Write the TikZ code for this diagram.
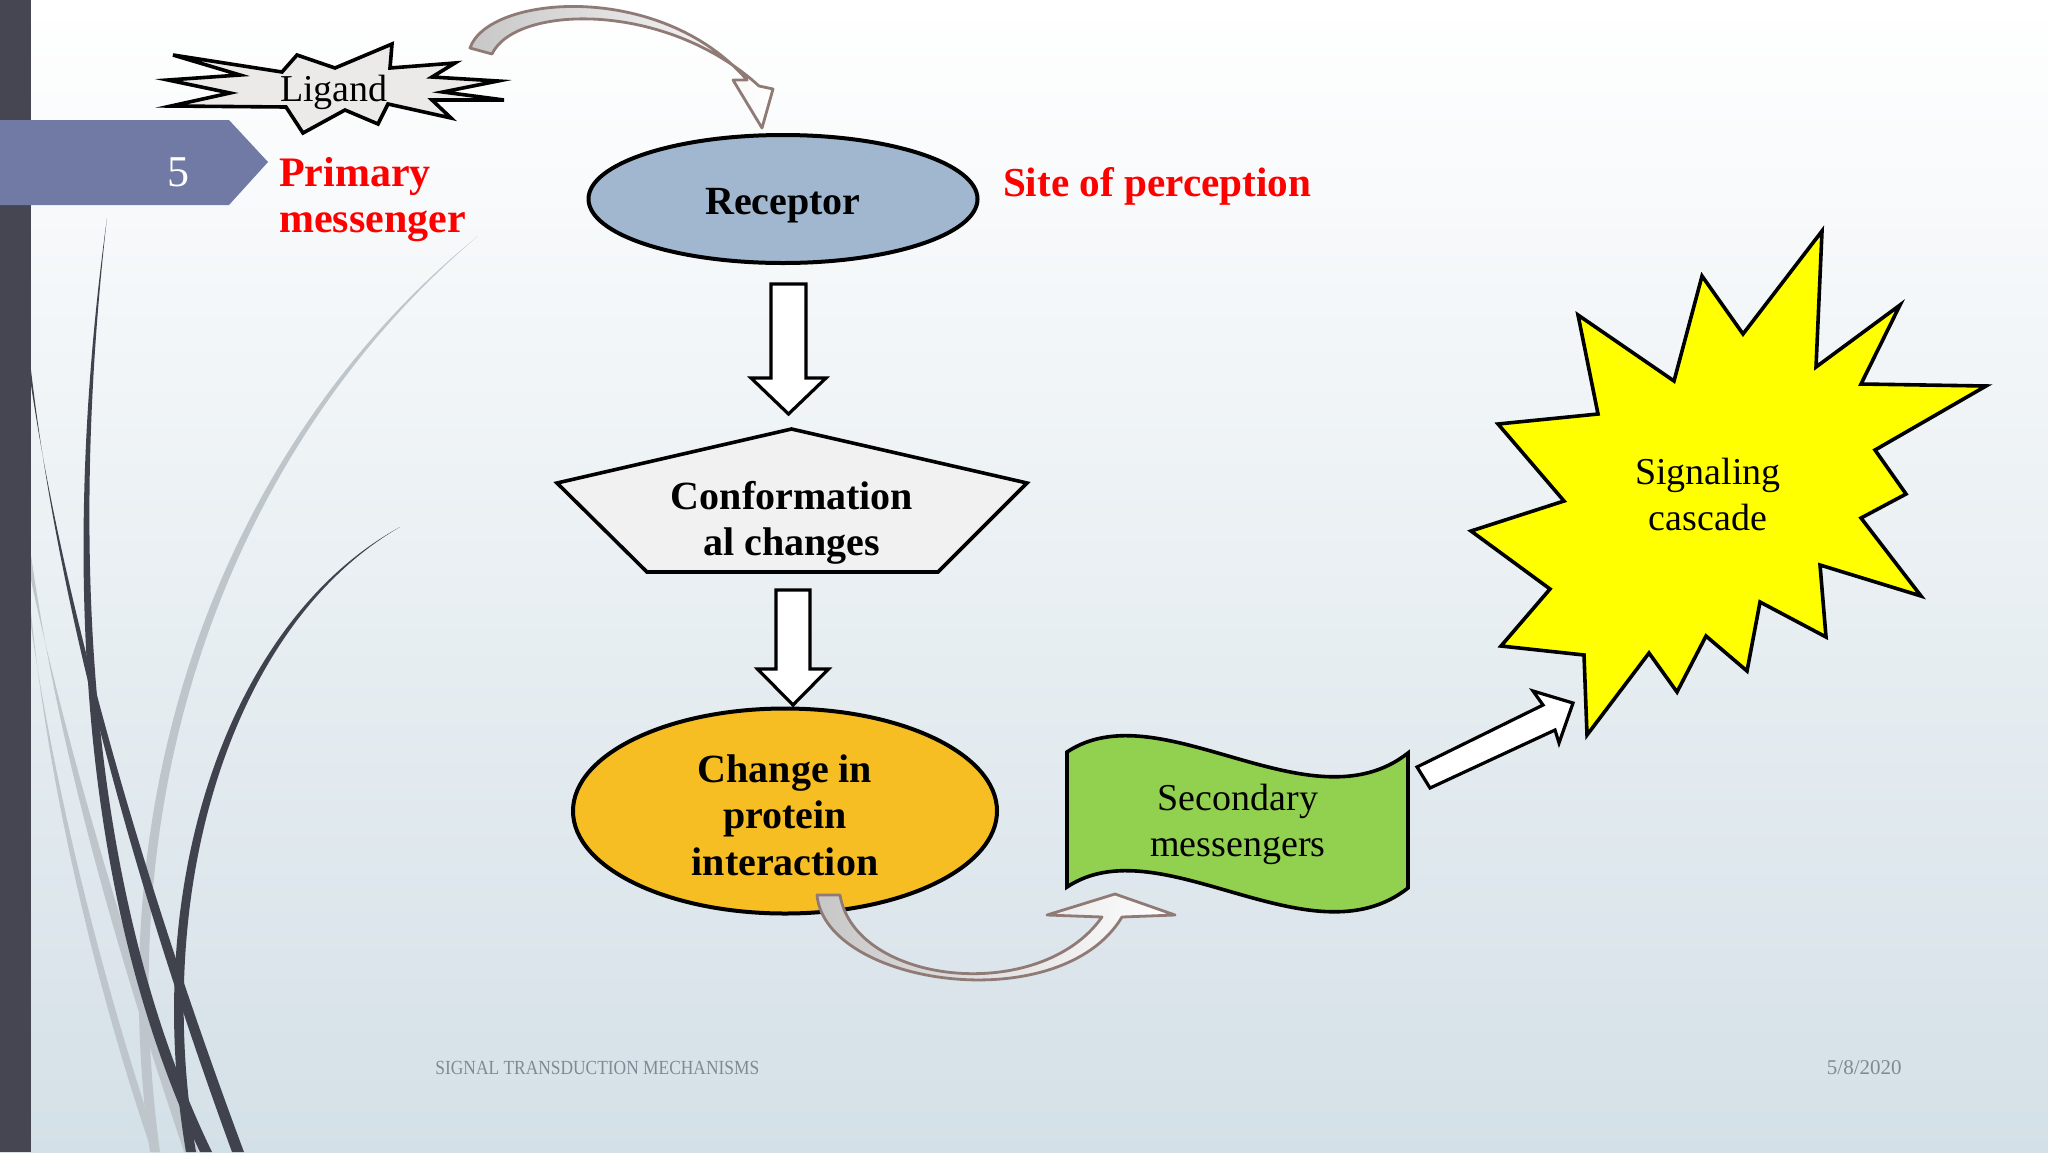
\documentclass[tikz,border=0pt]{standalone}
\usepackage{fontspec}
\setmainfont{Liberation Serif}
\usetikzlibrary{shapes.geometric,calc}
\definecolor{barc}{RGB}{69,70,82}
\definecolor{numc}{RGB}{112,122,164}
\definecolor{bgbot}{RGB}{212,224,231}
\definecolor{swdark}{RGB}{64,67,78}
\definecolor{swlight}{RGB}{190,198,204}
\definecolor{arrc}{RGB}{143,122,118}
\definecolor{recc}{RGB}{160,183,207}
\definecolor{pentc}{RGB}{241,241,241}
\definecolor{orac}{RGB}{247,190,35}
\definecolor{grnc}{RGB}{146,208,80}
\definecolor{ylwc}{RGB}{255,255,0}
\definecolor{footc}{RGB}{128,138,148}
\definecolor{ligc}{RGB}{236,233,233}
\begin{document}
\begin{tikzpicture}[x=0.5pt,y=-0.5pt,
  shapeline/.style={draw=black, line width=1.8pt, line join=miter},
  boldlbl/.style={font=\fontsize{20}{23}\selectfont\bfseries, align=center, text=black},
  plainlbl/.style={font=\fontsize{19}{23}\selectfont, align=center, text=black},
  redlbl/.style={font=\fontsize{21}{23}\selectfont\bfseries, text=red, align=left},
  blockarrow/.style={draw=black, line width=1.6pt, fill=white, line join=miter},
  curvearrow/.style={draw=arrc, line width=1.4pt, line join=round, left color=black!22, right color=white},
  swd/.style={fill=swdark, draw=none},
  swl/.style={fill=swlight, draw=none},
]
\useasboundingbox (0,0) rectangle (2048,1152);
% background
\shade[top color=white, bottom color=bgbot] (0,0) rectangle (2048,1152);
% decorative swooshes
\fill[swl] (478,236) .. controls (250,420) and (95,750) .. (150,1152) -- (160,1152) .. controls (105,750) and (256,424) .. (478,236) -- cycle;
\fill[swl] (31,555) .. controls (60,760) and (120,960) .. (184,1152) -- (198,1152) .. controls (130,960) and (70,760) .. (31,580) -- cycle;
\fill[swl] (31,612) .. controls (50,800) and (100,1000) .. (152,1152) -- (160,1152) .. controls (108,1000) and (56,800) .. (31,626) -- cycle;
\fill[swd] (107,218) .. controls (60,560) and (80,900) .. (200,1152) -- (212,1152) .. controls (90,900) and (68,560) .. (107,218) -- cycle;
\fill[swd] (31,370) .. controls (60,620) and (140,900) .. (232,1152) -- (244,1152) .. controls (150,900) and (66,620) .. (31,385) -- cycle;
\fill[swd] (400,527) .. controls (230,620) and (140,880) .. (186,1152) -- (196,1152) .. controls (150,880) and (236,622) .. (400,527) -- cycle;
% left bar
\fill[barc] (0,0) rectangle (31,1152);
% slide number tab
\fill[numc] (0,120) -- (229,120) -- (268,162) -- (229,205) -- (0,205) -- cycle;
\node (num) [font=\fontsize{22}{22}\selectfont, text=white] at (178,172) {5};
% ligand starburst
\draw[shapeline, fill=ligc] (173,55) -- (282,72) -- (297,55) -- (335,68) -- (392,44) -- (390,68) -- (455,63) -- (432,77) -- (498,81) -- (443,92) -- (504,100) -- (432,100) -- (451,118) -- (388,104) -- (378,124) -- (345,110) -- (303,133) -- (286,107) -- (171,106) -- (230,93) -- (168,80) -- (240,75) -- cycle;
\node (lig) [plainlbl] at (334,92) {Ligand};
% primary messenger
\node (prim) [redlbl, anchor=west] at (272,200) {Primary\\messenger};
% receptor
\node (rec) [ellipse, draw=black, line width=2pt, fill=recc, minimum width=194.5pt, minimum height=64pt, inner sep=0pt] at (783,199) {};
\node (rectxt) [boldlbl] at (783,206) {Receptor};
\node (site) [redlbl, font=\fontsize{20.6}{23}\selectfont\bfseries, anchor=west] at (996,186) {Site of perception};
% curved arrow ligand -> receptor
\draw[curvearrow] (470,48) .. controls (488,-5) and (660,-20) .. (747,80) -- (733,80) -- (762,128) -- (773,89) -- (759,86) .. controls (665,0) and (515,5) .. (492,54) -- cycle;
% down arrow 1
\draw[blockarrow] ($(rec.south)+(-12,19)$) -- ++(35,0) -- ++(0,94) -- ++(20,0) -- ++(-37.5,36) -- ++(-37.5,-36) -- ++(20,0) -- cycle;
% conformational changes pentagon
\draw[shapeline, fill=pentc] (791.5,429) -- (1027,483) -- (938,572) -- (647,572) -- (557,483) -- cycle;
\node (conf) [boldlbl] at (792,523) {Conformation\\al changes};
\coordinate (confbot) at (792,572);
% down arrow 2
\draw[blockarrow] ($(confbot)+(-16,18)$) -- ++(34,0) -- ++(0,79) -- ++(18.5,0) -- ++(-35.5,36) -- ++(-35.5,-36) -- ++(18.5,0) -- cycle;
% change in protein interaction
\node (chg) [ellipse, draw=black, line width=2pt, fill=orac, minimum width=212pt, minimum height=102.5pt, inner sep=0pt] at (785,811) {};
\node (chgtxt) [boldlbl, font=\fontsize{20}{23.25}\selectfont\bfseries] at (785,815) {Change in\\protein\\interaction};
% secondary messengers banner
\draw[shapeline, fill=grnc] (1067,752) .. controls (1160,690) and (1310,830) .. (1408,753) -- (1408,888) .. controls (1310,965) and (1160,825) .. (1067,887) -- cycle;
\node (sec) [plainlbl] at (1238,824) {Secondary\\messengers};
% curved arrow chg -> sec
\draw[curvearrow] (817,895) .. controls (825,985) and (1060,1020) .. (1122,917) -- (1175,915) -- (1115,894) -- (1047,915) -- (1102,917) .. controls (1040,1005) and (855,985) .. (840,895) -- cycle;
% signaling cascade star
\draw[shapeline, fill=ylwc] (1822,231) -- (1816,367) -- (1900,305) -- (1861,384) -- (1986,386) -- (1875,450) -- (1906,494) -- (1861,518) -- (1921,596) -- (1820,565) -- (1826,637) -- (1760,602) -- (1747,671) -- (1706,636) -- (1677,692) -- (1649,653) -- (1587,735) -- (1584,655) -- (1501,646) -- (1550,589) -- (1471,531) -- (1564,501) -- (1498,424) -- (1598,414) -- (1578,315) -- (1674,381) -- (1702,276) -- (1743,334) -- cycle;
\node (sig) [plainlbl] at (1708,494) {Signaling\\cascade};
% block arrow sec -> sig
\draw[blockarrow] (1417,767) -- (1543,705) -- (1533,691) -- (1573,703) -- (1559,743) -- (1555,730) -- (1430,788) -- cycle;
% footer
\node (foot) [anchor=west, text=footc, inner sep=0pt] at (435,1068) {\scalebox{0.87}[1]{\fontsize{10}{12}\selectfont SIGNAL TRANSDUCTION MECHANISMS}};
\node (date) [anchor=east, text=footc, inner sep=0pt, font=\fontsize{10.5}{12}\selectfont] at (1902,1068) {5/8/2020};
\end{tikzpicture}
\end{document}
